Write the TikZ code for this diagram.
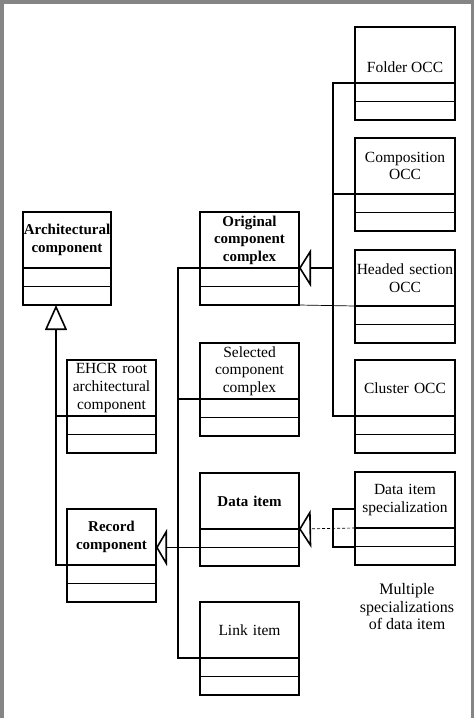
\documentclass[tikz,border=0pt]{standalone}
\usepackage{fontspec}
\setmainfont{Liberation Serif}
\usetikzlibrary{arrows.meta,calc}
\definecolor{framegray}{HTML}{858585}
\newcommand\umlcls[6]{%
  \node[namebox, text width=#4pt, anchor=north west, #6] (#1) at (#2,#3) {#5};
  \node[compbox, minimum width=#4pt, anchor=north] (#1-a) at (#1.south) {};
  \node[compbox, minimum width=#4pt, anchor=north] (#1-b) at (#1-a.south) {};
}
\begin{document}
\begin{tikzpicture}[x=1pt,y=-1pt,
  box/.style={draw=black, line width=1.4pt, rectangle, inner sep=0pt, outer sep=0pt},
  namebox/.style={box, minimum height=56pt, align=center},
  compbox/.style={box, minimum height=18.5pt},
  conn/.style={draw=black, line width=1.6pt},
  thinconn/.style={draw=black, line width=0.7pt},
  genv/.style={conn, -{Triangle[open, length=25pt, width=22pt]}},
  genh/.style={conn, -{Triangle[open, length=12pt, width=38pt]}},
  txt/.style={font=\fontsize{15.5}{17.6}\selectfont},
  btxt/.style={font=\bfseries\fontsize{15}{17.6}\selectfont}]
\path[use as bounding box] (0,0) rectangle (474,718);
\fill[framegray] (0,0) rectangle (474,718);
\fill[white] (3.5,3.5) rectangle (470.5,718);

\umlcls{arch}{23}{212}{88}{Architectural\\component}{btxt}
\umlcls{ehcr}{67}{360}{89}{EHCR root\\architectural\\component}{txt}
\umlcls{record}{67}{509}{89}{Record\\component}{btxt}
\umlcls{orig}{200}{212}{99}{Original\\component\\complex}{btxt}
\umlcls{sel}{200}{343}{99}{Selected\\component\\complex}{txt}
\umlcls{data}{200}{473}{99}{Data item}{btxt}
\umlcls{link}{200}{602}{99}{Link item}{txt}
\umlcls{folder}{355}{27}{100}{}{txt}
\umlcls{comp}{355}{138}{100}{Composition\\OCC}{txt}
\umlcls{headed}{355}{250}{100}{Headed section\\OCC}{txt}
\umlcls{cluster}{355}{360}{100}{Cluster OCC}{txt}
\umlcls{spec}{355}{472}{100}{Data item\\specialization}{txt}
\node[txt] (folder-t) at ($(folder.center)+(0,12)$) {Folder OCC};

% generalization to Architectural component
\coordinate (gtip) at ($(arch-b.south)+(-11,0)$);
\draw[genv] (record.south west) -| (gtip);
\draw[conn] (ehcr.south west) -- (ehcr.south west -| gtip);

% OCC specializations of Original component complex
\coordinate (rbus) at ($(folder.south west)+(-22,0)$);
\draw[conn] (folder.south west) -- (rbus) -- (rbus |- cluster.south west) -- (cluster.south west);
\draw[conn] (comp.south west) -- (comp.south west -| rbus);
\draw[thinconn] (orig-b.south east) -- (headed.south west);
\draw[genh] (orig.south east -| rbus) -- (orig.south east);

% specializations of Record component
\coordinate (lbus) at ($(orig.south west)+(-22,0)$);
\draw[conn] (orig.south west) -- (lbus) -- (lbus |- link.south west) -- (link.south west);
\draw[conn] (sel.south west) -- (sel.south west -| lbus);
\draw[conn, -{Triangle[open, length=11pt, width=37pt]}] (data-a.south west) -- (data-a.south west -| record.east);

% data item specialization
\draw[thinconn, densely dashed, -{Triangle[open, length=12pt, width=38pt, line width=1.6pt]}] (spec.south west) -- (data.south east);
\coordinate (b1) at ($(spec.south west)+(-22,-19)$);
\coordinate (b2) at ($(spec.south west)+(-22,19)$);
\draw[conn] (b1 -| spec.west) -- (b1) -- (b2) -- (b2 -| spec.west);

\node[align=center, font=\fontsize{16}{17.5}\selectfont] (note) at (407,607) {Multiple\\specializations\\of data item};
\end{tikzpicture}
\end{document}
